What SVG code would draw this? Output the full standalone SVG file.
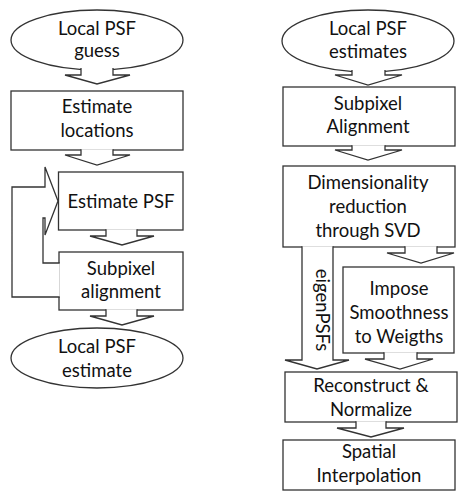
<svg xmlns="http://www.w3.org/2000/svg" width="474" height="501" viewBox="0 0 474 501">
<style>
.s{fill:#fff;stroke:#333;stroke-width:1.3}
.t{font-family:Lato,"Liberation Sans",sans-serif;font-size:18.5px;fill:#111;text-anchor:middle}
</style>
<rect width="474" height="501" fill="#fff"/>
<g id="n-guess"><ellipse class="s" cx="97" cy="40" rx="86" ry="30"/><text class="t" x="97" y="35">Local PSF</text><text class="t" x="97" y="57">guess</text></g>
<g id="n-estloc"><rect class="s" x="11" y="91" width="172" height="59"/><text class="t" x="97" y="113">Estimate</text><text class="t" x="97" y="137">locations</text></g>
<g id="n-estpsf"><rect class="s" x="58.5" y="172" width="124.5" height="58"/><text class="t" x="121" y="208">Estimate PSF</text></g>
<g id="n-subpix"><rect class="s" x="59" y="252" width="124" height="58"/><text class="t" x="121" y="275">Subpixel</text><text class="t" x="121" y="298">alignment</text></g>
<g id="n-estimate"><ellipse class="s" cx="97" cy="358" rx="86" ry="30"/><text class="t" x="97" y="353">Local PSF</text><text class="t" x="97" y="377">estimate</text></g>
<g id="n-estimates"><ellipse class="s" cx="368" cy="41" rx="86" ry="31"/><text class="t" x="368" y="35">Local PSF</text><text class="t" x="368" y="58">estimates</text></g>
<g id="n-align"><rect class="s" x="283" y="87" width="172" height="59"/><text class="t" x="368" y="110">Subpixel</text><text class="t" x="368" y="133">Alignment</text></g>
<g id="n-svd"><rect class="s" x="283" y="166" width="172" height="81"/><text class="t" x="368" y="189">Dimensionality</text><text class="t" x="368" y="213">reduction</text><text class="t" x="368" y="237">through SVD</text></g>
<g id="n-smooth"><rect class="s" x="343" y="267" width="111" height="86"/><text class="t" x="399" y="295">Impose</text><text class="t" x="399" y="319">Smoothness</text><text class="t" x="399" y="343">to Weigths</text></g>
<g id="n-recon"><rect class="s" x="285" y="372" width="172" height="50"/><text class="t" x="371" y="392">Reconstruct &amp;</text><text class="t" x="371" y="416">Normalize</text></g>
<g id="n-interp"><rect class="s" x="283" y="440" width="172" height="50"/><text class="t" x="369" y="458">Spatial</text><text class="t" x="369" y="482">Interpolation</text></g>
<g id="connectors">
<path class="s" d="M81,68 V75 H65 L97,84 L130,75 H113 V68"/>
<path class="s" d="M81,149.3 V155 H65 L97,165 L130,155 H113 V149.3"/>
<path class="s" d="M106,229.3 V236 H90 L122,245 L154,236 H137 V229.3"/>
<path class="s" d="M106,309.3 V316 H90 L122,325 L154,316 H137 V309.3"/>
<path class="s" d="M59.7,263 H43 V218 H45 V235 L58,201 L45,167 V187 H12 V297 H59.7"/>
<path class="s" d="M352,70 V75 H335 L368,85 L402,75 H385 V70"/>
<path class="s" d="M352,145.3 V150 H335 L368,160 L402,150 H385 V145.3"/>
<path class="s" d="M302,246.3 V360 H285 L317,369 L349,360 H333 V246.3"/>
<path class="s" d="M405,246.3 V253 H387 L421,263 L454,253 H437 V246.3"/>
<path class="s" d="M384,352.3 V359 H365 L400,369 L433,359 H417 V352.3"/>
<path class="s" d="M356,421.3 V428 H337 L371,437 L404,428 H386 V421.3"/>
<text class="t" transform="translate(316,310) rotate(90)">eigenPSFs</text>
</g>
</svg>
